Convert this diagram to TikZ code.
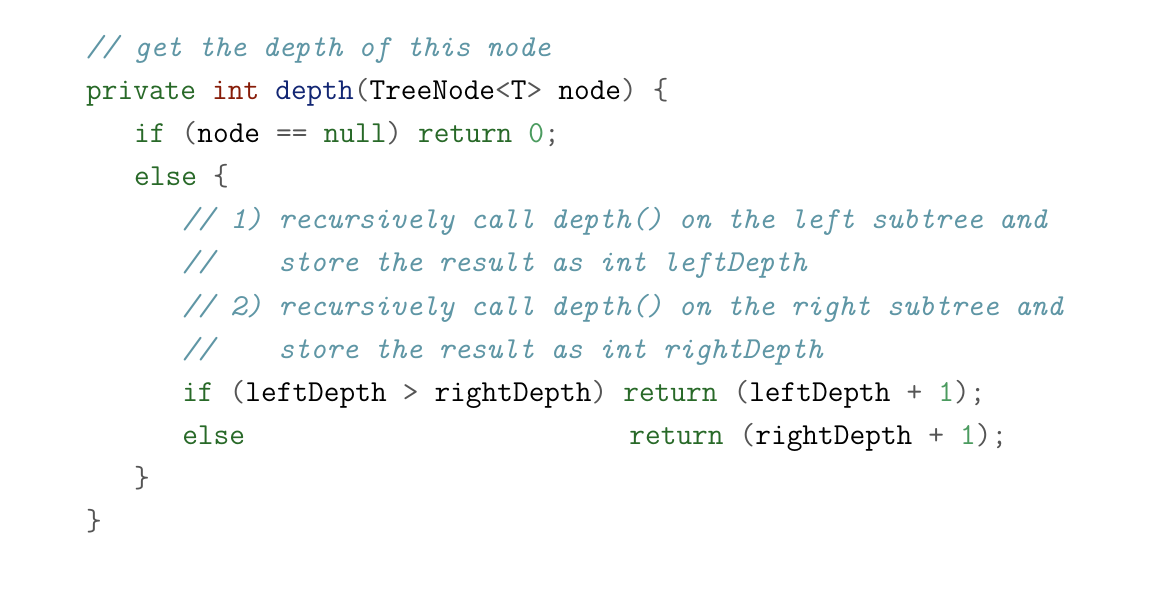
\documentclass[tikz,border=0pt]{standalone}
\definecolor{cmt}{RGB}{95,150,165}
\definecolor{kw}{RGB}{40,105,40}
\definecolor{ty}{RGB}{135,28,8}
\definecolor{fn}{RGB}{18,38,115}
\definecolor{num}{RGB}{75,155,95}
\definecolor{pu}{RGB}{85,85,85}
\newcommand{\Sk}[1]{\hspace*{#1\dimexpr 0.525em\relax}}
\newcommand{\s}{\Sk{1}}
\newcommand{\K}[1]{\textcolor{kw}{#1}}
\newcommand{\Pu}[1]{\textcolor{pu}{#1}}
\newcommand{\N}[1]{\textcolor{num}{#1}}
\newcommand{\Cm}[1]{{\itshape\color{cmt}#1}}
\begin{document}
\begin{tikzpicture}[x=1pt,y=1pt,
  codeline/.style={anchor=base west,inner sep=0pt,font=\fontsize{30.5}{43}\ttfamily}]
\useasboundingbox (0,0) rectangle (1156,614);
\fill[white] (0,0) rectangle (1156,614);
\node[codeline] (l1) at (86,557) {\Cm{//\s get\s the\s depth\s of\s this\s node}};
\node[codeline] (l2) at (86,514) {\K{private}\s\textcolor{ty}{int}\s\textcolor{fn}{depth}\Pu{(}TreeNode\Pu{<}T\Pu{>}\s node\Pu{)}\s\Pu{\{}};
\node[codeline] (l3) at (86,471) {\Sk{3}\K{if}\s\Pu{(}node\s\Pu{==}\s\K{null}\Pu{)}\s\K{return}\s\N{0}\Pu{;}};
\node[codeline] (l4) at (86,428) {\Sk{3}\K{else}\s\Pu{\{}};
\node[codeline] (l5) at (86,385) {\Sk{6}\Cm{//\s1)\s recursively\s call\s depth()\s on\s the\s left\s subtree\s and}};
\node[codeline] (l6) at (86,342) {\Sk{6}\Cm{//\Sk{4}store\s the\s result\s as\s int\s leftDepth}};
\node[codeline] (l7) at (86,299) {\Sk{6}\Cm{//\s2)\s recursively\s call\s depth()\s on\s the\s right\s subtree\s and}};
\node[codeline] (l8) at (86,256) {\Sk{6}\Cm{//\Sk{4}store\s the\s result\s as\s int\s rightDepth}};
\node[codeline] (l9) at (86,213) {\Sk{6}\K{if}\s\Pu{(}leftDepth\s\Pu{>}\s rightDepth\Pu{)}\s\K{return}\s\Pu{(}leftDepth\s\Pu{+}\s\N{1}\Pu{);}};
\node[codeline] (l10) at (86,170) {\Sk{6}\K{else}\Sk{24}\K{return}\s\Pu{(}rightDepth\s\Pu{+}\s\N{1}\Pu{);}};
\node[codeline] (l11) at (86,127) {\Sk{3}\Pu{\}}};
\node[codeline] (l12) at (86,84) {\Pu{\}}};
\end{tikzpicture}
\end{document}
